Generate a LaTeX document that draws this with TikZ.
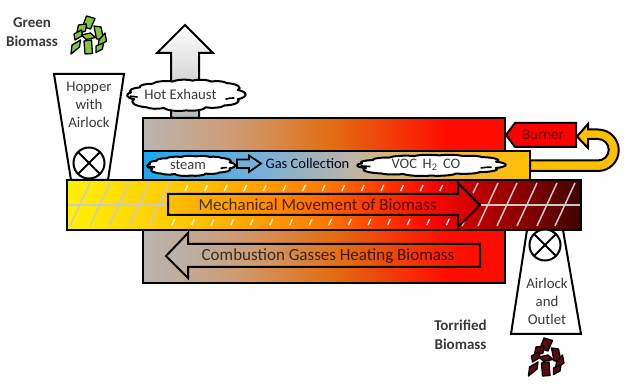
\documentclass[tikz,border=0pt]{standalone}
\usepackage{fontspec}
\setmainfont{Carlito}
\usetikzlibrary{calc}

\definecolor{furnA}{HTML}{B9B5B2}
\definecolor{furnB}{HTML}{CF9A70}
\definecolor{furnC}{HTML}{E26E12}
\definecolor{furnD}{HTML}{FF0C00}
\definecolor{gasA}{HTML}{18A8EE}
\definecolor{gasB}{HTML}{75B0DA}
\definecolor{gasC}{HTML}{BDB5A5}
\definecolor{gasD}{HTML}{F2B544}
\definecolor{gasE}{HTML}{FFC000}
\definecolor{scrA}{HTML}{FFF200}
\definecolor{scrB}{HTML}{FFC000}
\definecolor{scrC}{HTML}{FF7A00}
\definecolor{scrD}{HTML}{FF0800}
\definecolor{scrE}{HTML}{C80000}
\definecolor{scrF}{HTML}{800000}
\definecolor{scrG}{HTML}{3E0500}
\definecolor{slatgrey}{HTML}{CFC8C8}
\definecolor{labelgrey}{HTML}{3A3A3A}
\definecolor{chipgreen}{HTML}{84C441}
\definecolor{chipbrown}{HTML}{5A0A10}
\definecolor{flue}{HTML}{FFC000}

% Horizontal colour ramps: the visible range of a shading runs from 25bp to 75bp
\pgfdeclarehorizontalshading{furnaceramp}{100bp}{color(0bp)=(furnA); color(25bp)=(furnA); color(38bp)=(furnB); color(51bp)=(furnC); color(67bp)=(furnD); color(75bp)=(furnD); color(100bp)=(furnD)}
\pgfdeclarehorizontalshading{gasramp}{100bp}{color(0bp)=(gasA); color(25bp)=(gasA); color(40bp)=(gasB); color(52bp)=(gasC); color(64bp)=(gasD); color(75bp)=(gasE); color(100bp)=(gasE)}
\pgfdeclarehorizontalshading{screwramp}{100bp}{color(0bp)=(scrA); color(25bp)=(scrA); color(38bp)=(scrB); color(50bp)=(scrC); color(60bp)=(scrD); color(64bp)=(scrE); color(70bp)=(scrF); color(75bp)=(scrG); color(100bp)=(scrG)}
\pgfdeclarehorizontalshading{moveramp}{100bp}{color(0bp)=(scrB); color(25bp)=(scrB); color(46bp)=(scrC); color(67bp)=(scrD); color(75bp)=(scrE); color(100bp)=(scrE)}
\pgfdeclarehorizontalshading{combustramp}{100bp}{color(0bp)=(furnA); color(25bp)=(furnA); color(40bp)=(furnB); color(53bp)=(furnC); color(73bp)=(furnD); color(75bp)=(furnD); color(100bp)=(furnD)}

\tikzset{
  outline/.style={draw=black,line width=2pt,line join=miter},
  slat/.style={draw=slatgrey,line width=1.5pt},
  tick/.style={draw=white!85!slatgrey,line width=1.3pt},
  caption/.style={inner sep=0pt,text=labelgrey,font=\fontsize{14.8}{18}\selectfont,align=center},
  bigcaption/.style={inner sep=0pt,text=black,text opacity=.72,font=\fontsize{17}{20}\selectfont},
  boldcaption/.style={inner sep=0pt,text=labelgrey,font=\bfseries\fontsize{15}{19}\selectfont,align=center},
  chip/.style={line width=1.3pt,draw=black,line join=round},
}

% Puffy cloud in a unit box, placed by #1 (left, top) and sized by #2 (width, height)
\newcommand{\puff}[4]{%
  \begin{scope}[shift={(#1,#2)},xscale=#3,yscale=#4]
    \path[draw=black,line width=2pt,fill=white,line join=round]
      (.03,.62) to[bend left=50] (.0,.40) to[bend left=50] (.08,.24)
      to[bend left=55] (.20,.12) to[bend left=55] (.38,.05) to[bend left=55] (.56,.02)
      to[bend left=55] (.73,.05) to[bend left=55] (.87,.10) to[bend left=55] (.97,.32)
      to[bend left=55] (.97,.62) to[bend left=55] (.85,.82) to[bend left=55] (.68,.88)
      to[bend left=55] (.50,.98) to[bend left=55] (.30,.90) to[bend left=55] (.14,.88)
      to[bend left=50] cycle;
    \draw[line width=1.6pt] (-.01,.52) -- (.06,.55);
    \draw[line width=1.6pt] (.86,.62) to[bend left=25] (.94,.58);
  \end{scope}}

% The scatter of biomass chips, offset by #1 and #2 and filled with #3
\newcommand{\chips}[3]{%
  \begin{scope}[shift={(#1,#2)}]
    \path[chip,fill=#3] (86.5,16) -- (95,18.5) -- (90.5,29) -- (82.5,26.5) -- cycle;
    \path[chip,fill=#3] (78.5,25) -- (86.5,24) -- (85.5,31) -- (76.5,34) -- cycle;
    \path[chip,fill=#3] (94,26) -- (101,27) -- (103.5,39) -- (96.5,39) -- cycle;
    \path[chip,fill=#3] (74,34) -- (81.5,30) -- (82.5,35.5) -- (75,40) -- cycle;
    \path[chip,fill=#3] (81.5,35) -- (90.5,33) -- (95.5,37.5) -- (86,39.5) -- cycle;
    \path[chip,fill=#3] (72,45) -- (80.5,40) -- (79.5,47) -- (71,54) -- cycle;
    \path[chip,fill=#3] (84,41) -- (91.5,40) -- (92.5,53.5) -- (85,54) -- cycle;
    \path[chip,fill=#3] (99,40) -- (105,33) -- (106.5,41) -- (98,46.5) -- cycle;
    \path[chip,fill=#3] (96,46) -- (103.5,43) -- (102.5,49) -- (96,52.5) -- cycle;
  \end{scope}}

% Rotary airlock valve
\newcommand{\valve}[2]{%
  \path[outline,fill=white] (#1,#2) circle[radius=15.5pt];
  \draw[line width=2pt] (#1-11,#2-11) -- (#1+11,#2+11);
  \draw[line width=2pt] (#1-11,#2+11) -- (#1+11,#2-11);}

\begin{document}
\begin{tikzpicture}[x=1pt,y=-1pt]
\useasboundingbox[fill=white] (0,0) rectangle (625,387);

% Exhaust stack
\path[outline,top color=white,bottom color=black!28]
  (185,25) -- (213,53) -- (199,53) -- (199,118) -- (171,118) -- (171,53) -- (157,53) -- cycle;

% Furnace shell
\path[outline,shading=furnaceramp] (143,118) rectangle (505,283);

% Gas collection channel
\path[outline,shading=gasramp] (143,151) rectangle (530,180);

% Return duct feeding the burner
\path[outline,fill=flue]
  (530,160.5) -- (598,160.5) arc[start angle=-90,end angle=90,radius=10.75pt] -- (588,139)
  -- (588,148) -- (577,136.5) -- (588,124) -- (588,129.5) -- (598,129.5)
  arc[start angle=90,end angle=-90,radius=20.75pt] -- (530,171) -- cycle;

% Burner
\path[outline,fill=red] (506,135) -- (515,123) -- (576,123) -- (576,147) -- (515,147) -- cycle;

% Screw conveyor
\path[outline,shading=screwramp] (67,180) rectangle (581,230);
\foreach \b in {70,90,109,129,149} \draw[slat] (\b,226) -- (\b+20,183);
\draw[slat] (68,205) -- (168,205);
\foreach \b in {478,497,517,537,555} \draw[slat] (\b,226) -- (\b+20,183);
\draw[slat] (473,193) -- (478,183);
\draw[slat] (462,226) -- (467,216);
\draw[slat] (480,205) -- (580,205);
\foreach \t in {185,204.6,...,456} \draw[tick] (\t,191) -- (\t+2.8,185);
\foreach \t in {172,191.6,...,452} \draw[tick] (\t,225) -- (\t+2.8,219);

% Movement arrow
\path[outline,shading=moveramp]
  (168,194) -- (458,194) -- (458,183) -- (480,205) -- (458,227) -- (458,215) -- (168,215) -- cycle;

% Combustion gas arrow
\path[outline,shading=combustramp]
  (166,256) -- (188,233) -- (188,244) -- (480,244) -- (480,267) -- (188,267) -- (188,278) -- cycle;

% Hopper and outlet
\path[outline,fill=white] (54,74) -- (124,74) -- (108,180) -- (71,180) -- cycle;
\valve{89}{163}
\path[outline,fill=white] (527,230) -- (563,230) -- (581,334) -- (511,334) -- cycle;
\valve{545}{245}

% Small transfer arrow
\path[draw=black,line width=1.7pt,fill=gasB]
  (237,159.5) -- (249,159.5) -- (249,155.5) -- (261,163.5) -- (249,172) -- (249,168) -- (237,168) -- cycle;

% Clouds
\puff{131}{80}{110}{31}
\puff{150}{156}{82}{20}
\puff{362}{155}{138}{21}

% Biomass chips
\chips{0}{0}{chipgreen}
\chips{457.5}{322}{chipbrown}

% Labels
\node[boldcaption] (green) at (32,32) {Green\\Biomass};
\node[boldcaption] (torrified) at (460.5,334.5) {Torrified\\Biomass};
\node[caption] (hopper) at (89,105) {Hopper\\with\\Airlock};
\node[caption] (outlet) at (547,301.5) {Airlock\\and\\Outlet};
\node[caption] (exhaust) at (180.5,94.5) {Hot Exhaust};
\node[caption,font=\fontsize{14.5}{18}\selectfont] (steam) at (188,165) {steam};
\node[caption,font=\fontsize{14.5}{18}\selectfont,text=black!85!blue] (gas) at (307.5,163.5) {Gas Collection};
\node[caption,font=\fontsize{14.5}{18}\selectfont] (voc) at (426,164.5) {VOC\, H\textsubscript{2}\, CO};
\node[caption,text=black!60!red,font=\fontsize{15}{18}\selectfont] (burner) at (543,135) {Burner};
\node[bigcaption] (move) at (317.5,205) {Mechanical Movement of Biomass};
\node[bigcaption] (combust) at (328,256) {Combustion Gasses Heating Biomass};
\end{tikzpicture}
\end{document}
